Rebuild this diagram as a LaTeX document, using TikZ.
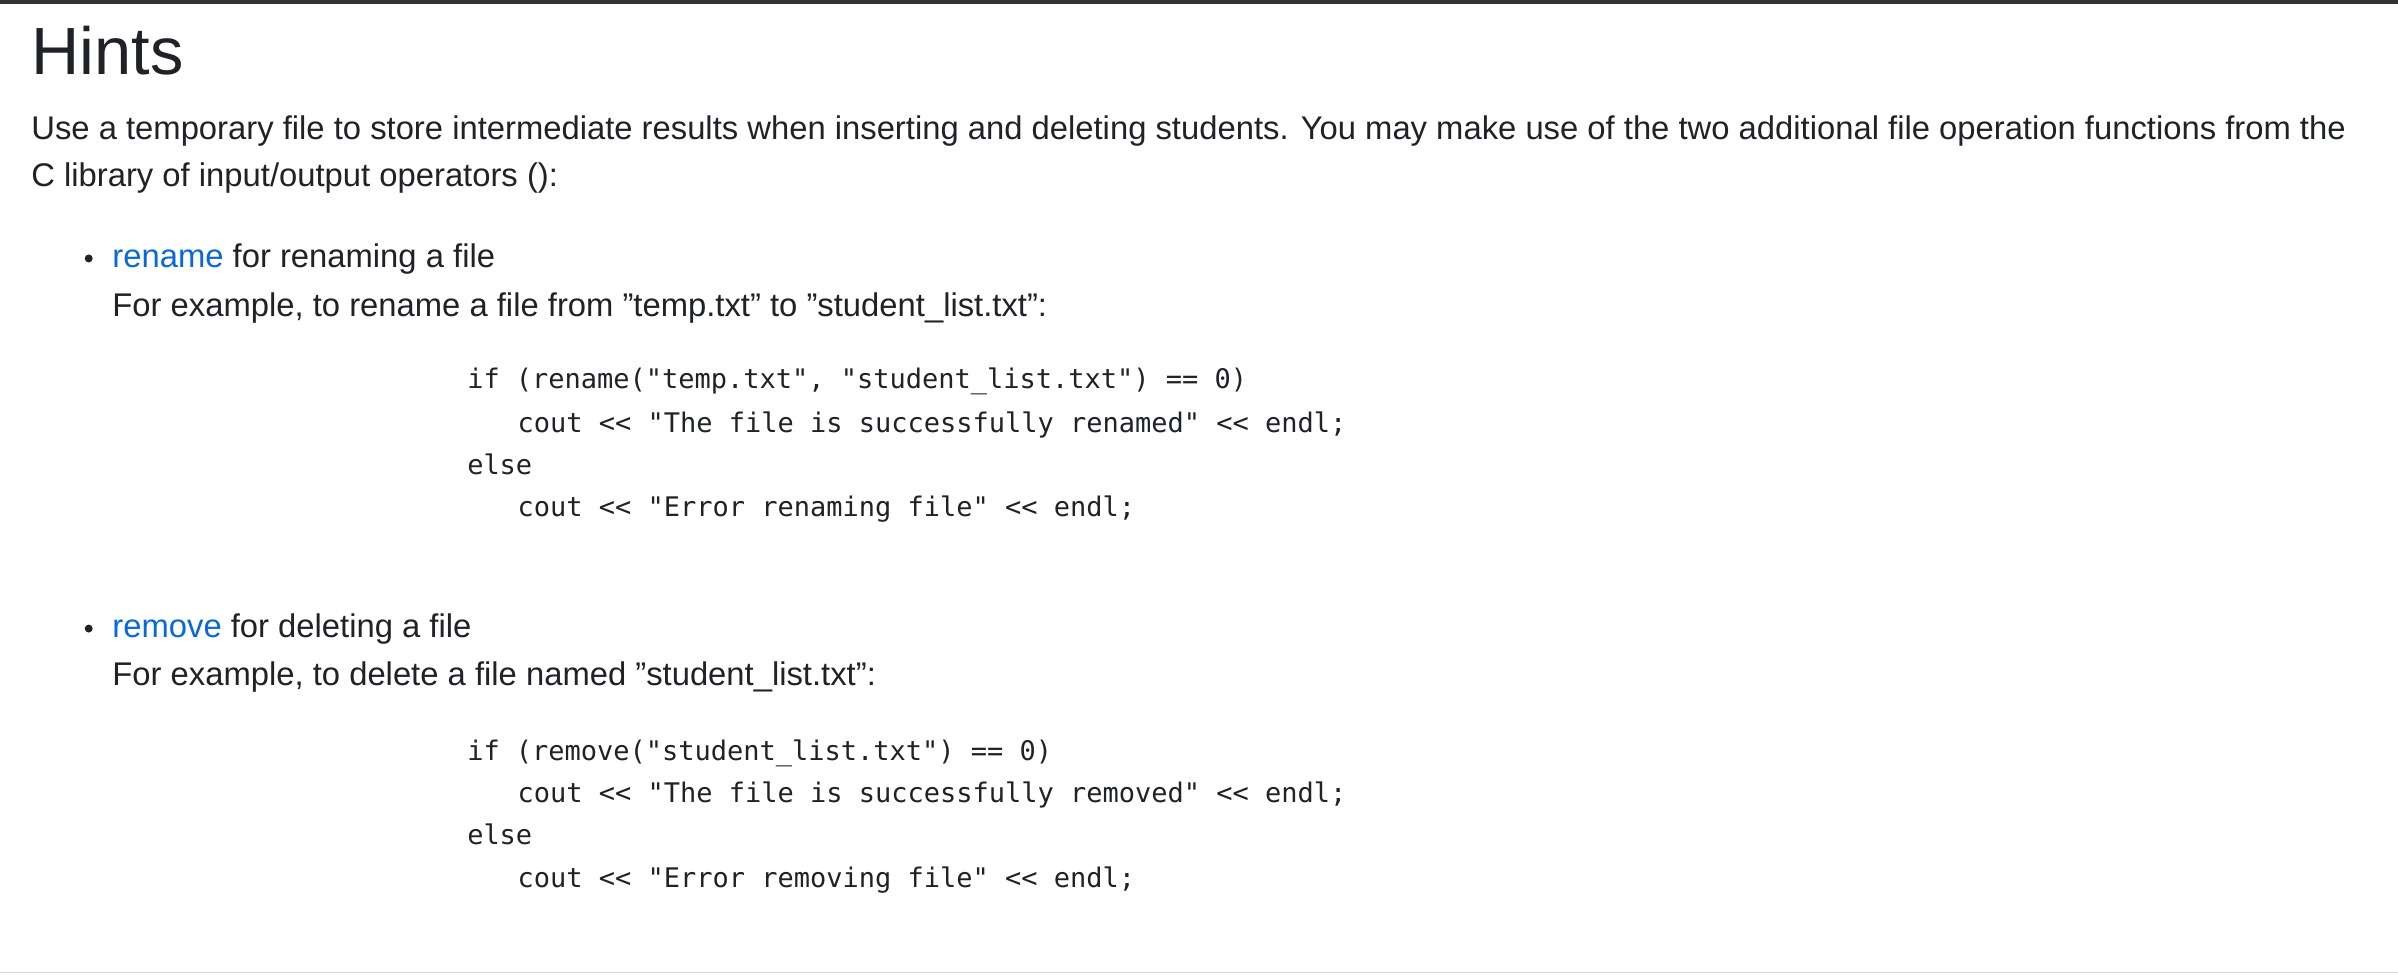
\documentclass[tikz,border=0pt]{standalone}
\usepackage{fontspec}
\setmainfont{Liberation Sans}
\newfontfamily\codefont{DejaVu Sans Mono}
\definecolor{linkblue}{HTML}{0969DA}
\definecolor{txt}{HTML}{1F2328}
\newcommand{\dq}{\symbol{34}}
\begin{document}
\begin{tikzpicture}[x=0.3825pt,y=-0.3825pt,
  body/.style={anchor=base west,inner sep=0pt,font=\fontsize{8.2pt}{10pt}\selectfont,text=txt},
  code/.style={anchor=base west,inner sep=0pt,font=\codefont\fontsize{6.75pt}{8pt}\selectfont,text=txt}]
\useasboundingbox (0,0) rectangle (1568,638);
\fill[white] (0,0) rectangle (1568,638);
\fill[black!80] (0,0) rectangle (1568,2.5);
\draw[black!15] (0,636) -- (1568,636);
\node[anchor=base west,inner sep=0pt,font=\fontsize{16.7pt}{18pt}\selectfont,text=txt] (h) at (20,49) {Hints};
\node[body] (p1) at (20,91) {Use a temporary file to store intermediate results when inserting and deleting students. You may make use of the two additional file operation functions from the};
\node[body] (p2) at (20,122) {C library of input/output operators ():};
\fill[txt] (58,169) circle (2.6);
\node[body] (b1) at (73,175) {\textcolor{linkblue}{rename} for renaming a file};
\node[body] (b1b) at (73,207) {For example, to rename a file from \dq temp.txt\dq{} to \dq student\_list.txt\dq:};
\node[code] (c1) at (305,254) {if (rename("temp.txt", "student\_list.txt") == 0)};
\node[code] (c2) at (338,283) {cout << "The file is successfully renamed" << endl;};
\node[code] (c3) at (305,310) {else};
\node[code] (c4) at (338,338) {cout << "Error renaming file" << endl;};
\fill[txt] (58,411) circle (2.6);
\node[body] (b2) at (73,417) {\textcolor{linkblue}{remove} for deleting a file};
\node[body] (b2b) at (73,448) {For example, to delete a file named \dq student\_list.txt\dq:};
\node[code] (d1) at (305,497) {if (remove("student\_list.txt") == 0)};
\node[code] (d2) at (338,525) {cout << "The file is successfully removed" << endl;};
\node[code] (d3) at (305,552) {else};
\node[code] (d4) at (338,580) {cout << "Error removing file" << endl;};
\end{tikzpicture}
\end{document}
